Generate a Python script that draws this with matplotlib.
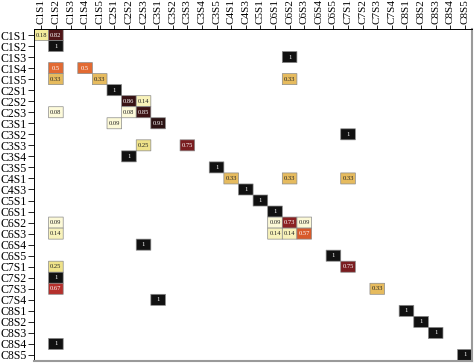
import numpy as np
import matplotlib
matplotlib.use("Agg")
import matplotlib.pyplot as plt
from matplotlib.colors import LinearSegmentedColormap

labels = ["C1S1", "C1S2", "C1S3", "C1S4", "C1S5",
          "C2S1", "C2S2", "C2S3",
          "C3S1", "C3S2", "C3S3", "C3S4", "C3S5",
          "C4S1", "C4S3", "C5S1",
          "C6S1", "C6S2", "C6S3", "C6S4", "C6S5",
          "C7S1", "C7S2", "C7S3", "C7S4",
          "C8S1", "C8S2", "C8S3", "C8S4", "C8S5"]

# non-empty cells: row label, column label, value
cell_rows = ["C1S1", "C1S1", "C1S2", "C1S3", "C1S4", "C1S4", "C1S5", "C1S5", "C1S5",
             "C2S1", "C2S2", "C2S2", "C2S3", "C2S3", "C2S3", "C3S1", "C3S1",
             "C3S2", "C3S3", "C3S3", "C3S4", "C3S5", "C4S1", "C4S1", "C4S1",
             "C4S3", "C5S1", "C6S1", "C6S2", "C6S2", "C6S2", "C6S2",
             "C6S3", "C6S3", "C6S3", "C6S3", "C6S4", "C6S5", "C7S1", "C7S1",
             "C7S2", "C7S3", "C7S3", "C7S4", "C8S1", "C8S2", "C8S3", "C8S4", "C8S5"]
cell_cols = ["C1S1", "C1S2", "C1S2", "C6S2", "C1S2", "C1S4", "C1S2", "C1S5", "C6S2",
             "C2S1", "C2S2", "C2S3", "C1S2", "C2S2", "C2S3", "C2S1", "C3S1",
             "C7S1", "C2S3", "C3S3", "C2S2", "C3S5", "C4S1", "C6S2", "C7S1",
             "C4S3", "C5S1", "C6S1", "C1S2", "C6S1", "C6S2", "C6S3",
             "C1S2", "C6S1", "C6S2", "C6S3", "C2S3", "C6S5", "C1S2", "C7S1",
             "C1S2", "C1S2", "C7S3", "C3S1", "C8S1", "C8S2", "C8S3", "C1S2", "C8S5"]
cell_vals = [0.18, 0.82, 1, 1, 0.5, 0.5, 0.33, 0.33, 0.33,
             1, 0.86, 0.14, 0.08, 0.08, 0.85, 0.09, 0.91,
             1, 0.25, 0.75, 1, 1, 0.33, 0.33, 0.33,
             1, 1, 1, 0.09, 0.09, 0.73, 0.09,
             0.14, 0.14, 0.14, 0.57, 1, 1, 0.25, 0.75,
             1, 0.67, 0.33, 1, 1, 1, 1, 1, 1]

cmap = LinearSegmentedColormap.from_list("ylrdblk", [
    (0.0, "#fffff2"), (0.1, "#fcf8d4"), (0.18, "#f3eb9c"), (0.25, "#efe28a"),
    (0.33, "#e6bb5e"), (0.5, "#e26a32"), (0.57, "#d85a2a"), (0.67, "#b5302c"),
    (0.75, "#7c1d20"), (0.85, "#3c1214"), (1.0, "#111111")])

n = len(labels)
grid = np.full((n, n), np.nan)
for r, c, v in zip(cell_rows, cell_cols, cell_vals):
    grid[labels.index(r), labels.index(c)] = v
masked = np.ma.masked_invalid(grid)

plt.rcParams["font.family"] = ["Liberation Serif", "DejaVu Serif"]
fig = plt.figure(figsize=(4.74, 3.64), dpi=100)
ax = fig.add_axes([0.0717, 0.0096, 0.9245, 0.9094])

edges = np.arange(n + 1) - 0.5
ax.pcolor(edges, edges, masked, cmap=cmap, vmin=0, vmax=1,
          edgecolors="#8a8a8a", linewidth=0.5)

# value labels inside the cells
for r, c, v in zip(cell_rows, cell_cols, cell_vals):
    txt = "1" if v == 1 else f"{v:g}"
    ax.text(labels.index(c), labels.index(r), txt, ha="center", va="center",
            fontsize=4.7, color="white" if v >= 0.45 else "#222222")

ax.set_xlim(-0.5, n - 0.5)
ax.set_ylim(n - 0.5, -0.5)
ax.set_xticks(range(n))
ax.set_yticks(range(n))
ax.set_xticklabels(labels, rotation=90, fontsize=8)
ax.set_yticklabels(labels, fontsize=8.5)
ax.xaxis.tick_top()
ax.tick_params(axis="x", length=3, width=0.6, pad=1)
ax.tick_params(axis="y", length=4, width=0.6, pad=1)

for side in ["top", "left"]:
    ax.spines[side].set_linewidth(0.7)
for side in ["right", "bottom"]:
    ax.spines[side].set_color("#9a9a9a")
    ax.spines[side].set_linewidth(1.5)

fig.savefig("out.png", dpi=100, facecolor="white")
